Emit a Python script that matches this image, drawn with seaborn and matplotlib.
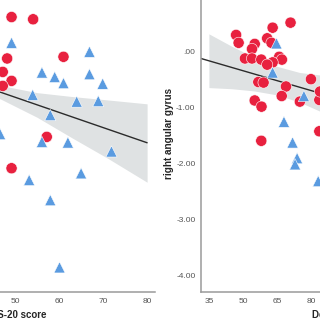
import numpy as np
import pandas as pd
from matplotlib import pyplot as plt
from matplotlib.ticker import FuncFormatter
import seaborn as sns

sns.set_style("white")
plt.rcParams['font.family'] = ['Liberation Sans', 'DejaVu Sans']

# Left panel (TAS-20 score), red circles / blue triangles
left_red_x = [49.2, 54.1, 48.2, 61.0, 47.2, 49.2, 47.2, 57.2, 49.2]
left_red_y = [0.61, 0.57, -0.13, -0.10, -0.37, -0.53, -0.62, -1.53, -2.09]
left_blue_x = [49.2, 66.9, 56.1, 59.0, 66.9, 61.0, 69.9, 54.0, 64.0, 68.9,
               58.0, 46.6, 56.1, 62.0, 71.9, 53.2, 65.0, 58.0, 60.1]
left_blue_y = [0.15, -0.01, -0.38, -0.46, -0.41, -0.57, -0.58, -0.78, -0.90, -0.89,
               -1.14, -1.48, -1.62, -1.63, -1.79, -2.30, -2.18, -2.66, -3.86]

# fit line and 95% band (most of the data is cropped)
left_fit_x = [30, 80]
left_fit_y = [-0.28, -1.635]
left_band_x = [40, 46.6, 55, 63, 71, 80]
left_band_lo = [-0.72, -0.85, -1.18, -1.55, -1.91, -2.34]
left_band_hi = [-0.38, -0.61, -0.74, -0.81, -0.87, -0.94]

# Right panel, red circles / blue triangles
right_red_x = [71.0, 63.1, 47.0, 48.1, 60.7, 62.6, 55.2, 54.0, 50.9, 54.0,
               58.1, 66.0, 67.2, 63.1, 60.7, 56.8, 59.1, 69.0, 80.0, 67.1,
               55.2, 58.2, 75.1, 83.7, 83.7, 58.1, 84.0]
right_red_y = [0.51, 0.42, 0.29, 0.15, 0.23, 0.15, 0.13, 0.04, -0.13, -0.13,
               -0.15, -0.10, -0.15, -0.20, -0.24, -0.55, -0.56, -0.63, -0.50, -0.80,
               -0.88, -0.99, -0.90, -0.87, -1.43, -1.60, -0.72]
right_blue_x = [64.8, 63.1, 76.9, 68.1, 71.9, 73.9, 73.0, 83.2]
right_blue_y = [0.14, -0.38, -0.80, -1.26, -1.63, -1.91, -2.02, -2.32]

right_fit_x = [31.5, 95]
right_fit_y = [-0.13, -0.879]
right_band_x = [35, 45, 55, 65, 75, 85, 95]
right_band_lo = [-0.65, -0.67, -0.71, -0.78, -0.91, -1.09, -1.30]
right_band_hi = [0.31, 0.09, -0.11, -0.27, -0.38, -0.43, -0.46]

left_xticks = [30, 40, 50, 60, 70, 80]
right_xticks = [35, 50, 65, 80]
yticks = [0, -1, -2, -3, -4]

RED = "#e8213f"
BLUE = "#5a9be0"
GREY = "#9a9a9a"
BAND = "#dfe2e3"


def spss_fmt(v, pos):
    s = "%.2f" % v
    if s.startswith("0"):
        s = s[1:]
    if s.startswith("-0"):
        s = "-" + s[2:]
    return s


def make_df(rx, ry, bx, by):
    return pd.DataFrame({
        "x": rx + bx,
        "y": ry + by,
        "group": ["a"] * len(rx) + ["b"] * len(bx),
    })


left = make_df(left_red_x, left_red_y, left_blue_x, left_blue_y)
right = make_df(right_red_x, right_red_y, right_blue_x, right_blue_y)

fig = plt.figure(figsize=(3.2, 3.2), dpi=100)
ax1 = fig.add_axes([-0.228, 0.0875, 0.7125, 0.9275])
ax2 = fig.add_axes([0.628, 0.0875, 0.45, 0.9275])

panels = [
    (ax1, left, left_fit_x, left_fit_y, left_band_x, left_band_lo, left_band_hi, (30, 81.8)),
    (ax2, right, right_fit_x, right_fit_y, right_band_x, right_band_lo, right_band_hi, (31.5, 95)),
]
for ax, df, fx, fy, bx, blo, bhi, xlim in panels:
    ax.fill_between(bx, blo, bhi, color=BAND, lw=0, zorder=1)
    sns.lineplot(x=fx, y=fy, color="#2b2b2b", lw=1.0, ax=ax, zorder=2)
    sns.scatterplot(data=df, x="x", y="y", hue="group", style="group",
                    palette={"a": RED, "b": BLUE}, markers={"a": "o", "b": "^"},
                    s=65, linewidth=0.4, edgecolor="white", legend=False, ax=ax, zorder=3)
    ax.set_xlim(*xlim)
    ax.set_ylim(-4.3, 1.0)
    ax.set_yticks(yticks)
    ax.yaxis.set_major_formatter(FuncFormatter(spss_fmt))
    ax.tick_params(length=0, labelsize=6, labelcolor="#555555", pad=4)
    for side in ["top", "right"]:
        ax.spines[side].set_visible(False)
    for side in ["left", "bottom"]:
        ax.spines[side].set_color(GREY)
        ax.spines[side].set_linewidth(1.1)

ax1.set_xticks(left_xticks)
ax2.set_xticks(right_xticks)

ax1.set_ylabel("")
ax1.set_xlabel("TAS-20 score", fontsize=7, fontweight="bold", ha="right")
ax1.xaxis.set_label_coords(119 / 228, -0.06)
ax2.set_ylabel("right angular gyrus", fontsize=7.2, fontweight="bold")
ax2.yaxis.set_label_coords(-0.19, 0.535)
ax2.set_xlabel("Depression score", fontsize=7, fontweight="bold", ha="left")
ax2.xaxis.set_label_coords(111 / 144, -0.06)

fig.savefig("out.png", dpi=100)
